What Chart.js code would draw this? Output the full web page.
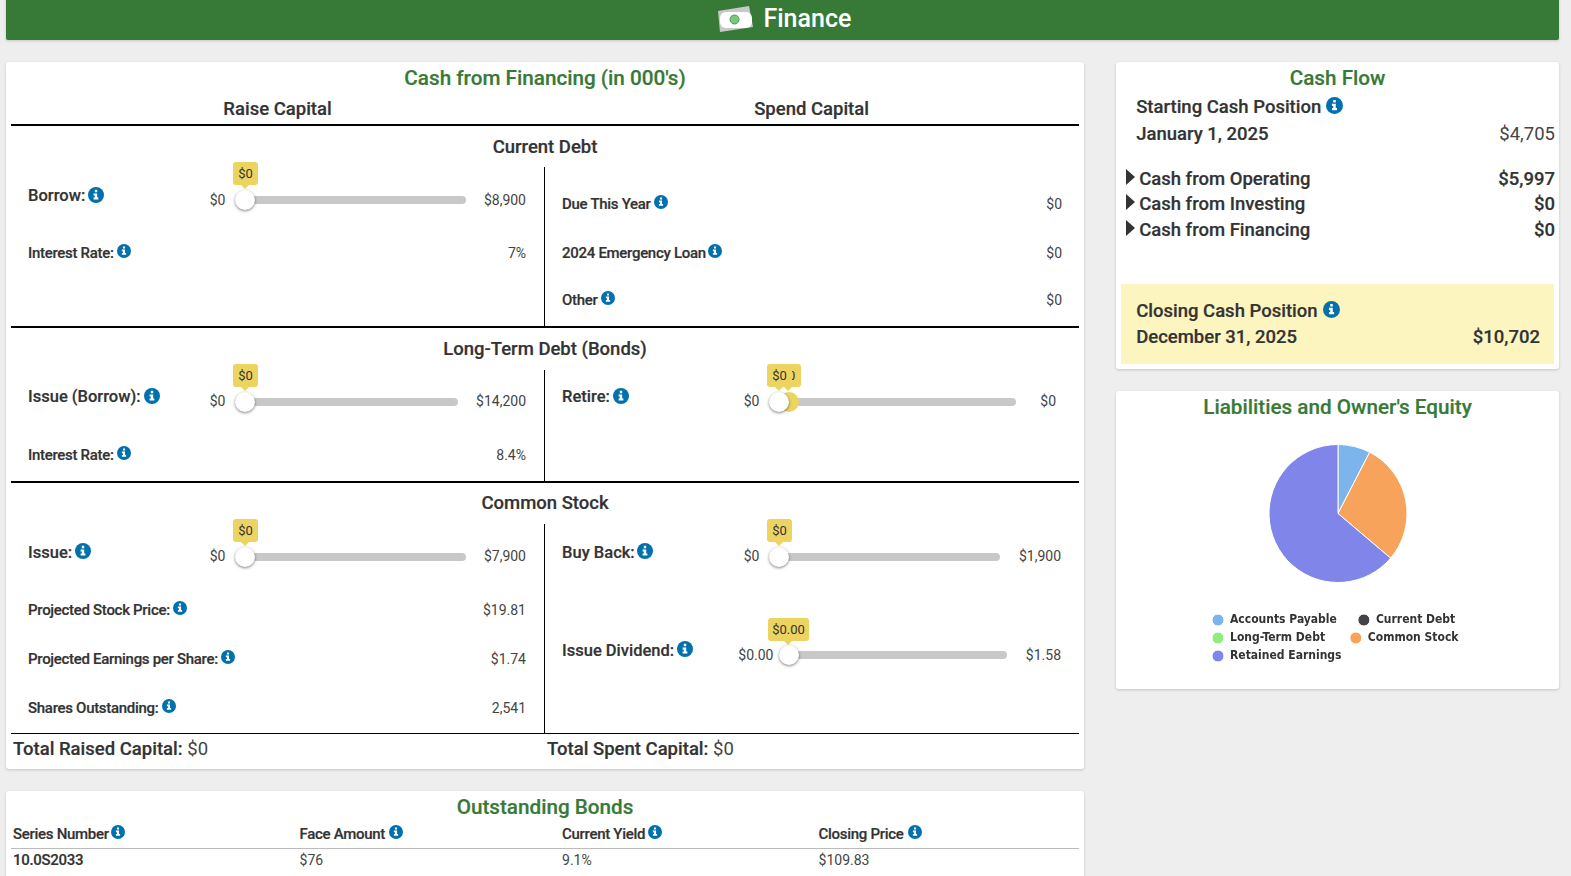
<!DOCTYPE html>
<html>
<head>
<meta charset="utf-8">
<title>Finance</title>
<script src="https://cdn.jsdelivr.net/npm/chart.js@4"></script>
<style>
html, body { margin: 0; padding: 0; width: 1571px; height: 876px; overflow: hidden; background: #eee; font-family: Roboto, sans-serif; color: #333; }
.box { position: absolute; background: #fff; border-radius: 3px; box-shadow: 0 1px 3px rgba(0,0,0,.18); }
.t { position: absolute; white-space: nowrap; line-height: 1; }
.title { font-size: 20.7px; font-weight: 500; color: #377a37; -webkit-text-stroke: 0.2px; }
.big { font-size: 18.5px; font-weight: 500; margin-top: 1px; -webkit-text-stroke: 0.2px; }
.lbl { font-size: 16.5px; font-weight: 500; -webkit-text-stroke: 0.2px; }
.sm { font-size: 15px; font-weight: 500; letter-spacing: -0.3px; -webkit-text-stroke: 0.2px; }
.val { font-size: 14px; color: #444; }
.cf { font-size: 18.5px; font-weight: 500; margin-top: 1px; -webkit-text-stroke: 0.2px; }
.reg { font-weight: 400; color: #444; -webkit-text-stroke: 0; }
.line { position: absolute; background: #000; }
.track { position: absolute; height: 8px; background: #c8c8c8; border-radius: 4px; }
.knob { position: absolute; width: 20px; height: 20px; border-radius: 50%; background: #fff; box-shadow: 0 1px 3px rgba(0,0,0,.5); }
.tip { position: absolute; height: 23px; background: #edd35f; border-radius: 3px; font-size: 13px; line-height: 23px; text-align: center; color: #333; }
.tip:after { content: ''; position: absolute; left: 50%; bottom: -4px; margin-left: -4px; border: 4px solid transparent; border-bottom: 0; border-top-color: #edd35f; }
svg { position: absolute; }
canvas { position: absolute; }
</style>
</head>
<body>
<canvas id="pie"></canvas>
<script>
// pie values (share of total, %)
const pieLabels = ['Accounts Payable', 'Current Debt', 'Long-Term Debt', 'Common Stock', 'Retained Earnings'];
const pieValues = [7.6, 0, 0, 28.6, 63.8];
const pieColors = ['#7cb5ec', '#434348', '#90ed7d', '#f7a35c', '#8085e9'];

// label, x, y, value, value right edge, style, icon x
const infoRows = [
    ['Interest Rate:', 28, 252, '7%', 525, 'sm', 124],
    ['Due This Year', 561, 203, '$0', 1060, 'sm', 660],
    ['2024 Emergency Loan', 561, 252, '$0', 1060, 'sm', 714],
    ['Other', 561, 298.5, '$0', 1060, 'sm', 607],
    ['Interest Rate:', 28, 453, '8.4%', 525, 'sm', 124],
    ['Projected Stock Price:', 28, 608, '$19.81', 525, 'sm', 180],
    ['Projected Earnings per Share:', 28, 657, '$1.74', 525, 'sm', 228],
    ['Shares Outstanding:', 28, 706, '2,541', 525, 'sm', 169]
];
// label, x, y, icon x, slider start, slider end, low, high, low right edge, high right edge, slider y
const sliderRows = [
    ['Borrow:', 28, 195.5, 96, 245, 465, '$0', '$8,900', 225, 525, 199],
    ['Issue (Borrow):', 28, 396, 152, 245, 457, '$0', '$14,200', 225, 525, 400],
    ['Retire:', 561, 396, 620, 778, 1014, '$0', '$0', 758, 1054, 400],
    ['Issue:', 28, 551, 83, 245, 465, '$0', '$7,900', 225, 525, 555],
    ['Buy Back:', 561, 551, 644, 778, 998, '$0', '$1,900', 758, 1059, 555],
    ['Issue Dividend:', 561, 649, 684, 787, 1005, '$0.00', '$1.58', 772, 1059, 653]
];
const cashRows = [['Cash from Operating', 178, '$5,997'], ['Cash from Investing', 203, '$0'], ['Cash from Financing', 229, '$0']];
const bondHeaders = [['Series Number', 13, 118], ['Face Amount', 299, 395], ['Current Yield', 561, 654], ['Closing Price', 817, 913]];
const bondRow = ['10.0S2033', '$76', '9.1%', '$109.83'];

// the reference is measured on a slightly reduced view
const k = 1571 / 1568;

function el(cls, style, html) {
    const d = document.createElement('div');
    d.className = cls;
    Object.assign(d.style, style);
    if (html !== undefined) d.innerHTML = html;
    document.body.appendChild(d);
    return d;
}
function rect(cls, x0, y0, x1, y1, bg) {
    return el(cls, { left: x0 * k + 'px', top: y0 * k + 'px', width: (x1 - x0) * k + 'px', height: (y1 - y0) * k + 'px', background: bg || '' });
}
function text(str, x, y, cls, align) {
    const tx = align === 'c' ? '-50%' : align === 'r' ? '-100%' : '0';
    return el('t ' + cls, { left: x * k + 'px', top: y * k + 'px', transform: 'translate(' + tx + ',-50%)' }, str);
}
function icon(x, y, r) {
    const s = document.createElementNS('http://www.w3.org/2000/svg', 'svg');
    const px = x * k, py = y * k;
    s.setAttribute('width', 2 * r);
    s.setAttribute('height', 2 * r);
    s.setAttribute('viewBox', '-10 -10 20 20');
    s.style.left = (px - r) + 'px';
    s.style.top = (py - r) + 'px';
    s.innerHTML = '<circle r="10" fill="#0071ad"/><path d="M-1.5-6.5h3v3h-3zM-3-2h4.5v5H3v2.5h-6V3h1.5V0.5H-3z" fill="#fff"/>';
    document.body.appendChild(s);
}
function tip(x0, x1, y, str) {
    const d = rect('tip', x0, y, x1, y + 23);
    d.textContent = str;
}
function knob(x, y, bg) {
    const d = el('knob', { left: (x * k - 10) + 'px', top: (y * k - 10) + 'px' });
    if (bg) { d.style.background = bg; d.style.boxShadow = 'none'; }
}

// header
rect('box', 6, -4, 1556, 40, '#377a37').style.borderRadius = '0 0 2px 2px';
const bill = document.createElementNS('http://www.w3.org/2000/svg', 'svg');
bill.setAttribute('width', 40); bill.setAttribute('height', 30);
bill.style.left = '716px'; bill.style.top = '4px';
bill.innerHTML = '<polygon points="2,7 33,2 37,23 4,28" fill="#c9c9c9"/><rect x="4" y="8" width="32" height="16" rx="6" fill="#fff"/><circle cx="18.5" cy="15.5" r="4.5" fill="#7dc67d" stroke="#4a9a4a"/>';
document.body.appendChild(bill);
text('Finance', 762, 18, 'big').style.cssText += 'font-size:25px;color:#fff;margin-top:0;-webkit-text-stroke:0';

// cards
rect('box', 6, 62, 1082, 768);
rect('box', 6, 789, 1082, 900);
rect('box', 1114, 62, 1556, 368);
rect('box', 1114, 390, 1556, 688);

// financing card
text("Cash from Financing (in 000's)", 544, 78, 'title', 'c');
text('Raise Capital', 277, 108, 'big', 'c');
text('Spend Capital', 810, 108, 'big', 'c');
rect('line', 11, 124, 1077, 126);
text('Current Debt', 544, 146, 'big', 'c');
rect('line', 543, 167, 544, 326);
rect('line', 11, 325, 1077, 327);
text('Long-Term Debt (Bonds)', 544, 347, 'big', 'c');
rect('line', 543, 369, 544, 481);
rect('line', 11, 480, 1077, 482);
text('Common Stock', 544, 501, 'big', 'c');
rect('line', 543, 523, 544, 732);
rect('line', 11, 732, 1077, 733);
text('Total Raised Capital: <span class="reg">$0</span>', 13, 747, 'big');
text('Total Spent Capital: <span class="reg">$0</span>', 546, 747, 'big');

infoRows.forEach(r => {
    text(r[0], r[1], r[2] + 1, r[5]);
    icon(r[6], r[2] - 1, 7);
    text(r[3], r[4], r[2] + 1, 'val', 'r');
});
sliderRows.forEach(r => {
    const ty = r[10] + 1;
    text(r[0], r[1], r[2] + 0.5, 'lbl');
    icon(r[3], r[2] - 1, 8);
    rect('track', r[4], ty, r[5], ty + 8).style.transform = 'translateY(-50%)';
    text(r[6], r[8], ty - 0.7, 'val', 'r');
    text(r[7], r[9], ty - 0.7, 'val', 'r');
    const wide = r[6].length > 2;
    const w = wide ? 40 : 25;
    const tipY = ty - (wide ? 37 : 38);
    if (r[0] === 'Retire:') {
        knob(r[4] + 9, ty, '#edd35f');
        tip(r[4] - 4, r[4] + 21, tipY, r[6]);
    }
    tip(r[4] - w / 2, r[4] + w / 2, tipY, r[6]);
    knob(r[4], ty);
});

// bonds card
text('Outstanding Bonds', 544, 805, 'title', 'c');
bondHeaders.forEach((h, i) => {
    text(h[0], h[1], 832, 'sm');
    icon(h[2], 830, 7);
    text(bondRow[i], h[1], 858, i === 0 ? 'sm' : 'val');
});
rect('line', 11, 846, 1077, 847, '#bbb');

// cash flow card
text('Cash Flow', 1335, 78, 'title', 'c');
text('Starting Cash Position', 1134, 106, 'cf');
icon(1332, 105, 8.5);
text('January 1, 2025', 1134, 133, 'cf');
text('$4,705', 1552, 133, 'cf reg', 'r');
cashRows.forEach(r => {
    text(r[0], 1137, r[1], 'cf');
    text(r[2], 1552, r[1], 'cf', 'r');
    el('', { position: 'absolute', left: 1124 * k + 'px', top: (r[1] - 9) * k + 'px', borderLeft: '9px solid #333', borderTop: '8px solid transparent', borderBottom: '8px solid transparent' });
});
rect('', 1119, 283, 1551, 363, '#fdf5bf').style.position = 'absolute';
text('Closing Cash Position', 1134, 309.5, 'cf');
icon(1329, 309, 8.5);
text('December 31, 2025', 1134, 335.5, 'cf');
text('$10,702', 1537, 335.5, 'cf', 'r');

// pie card
text("Liabilities and Owner's Equity", 1335, 406, 'title', 'c');
const pie = document.getElementById('pie');
pie.width = 264; pie.height = 253;
pie.style.left = '1206px'; pie.style.top = '419px'; pie.style.zIndex = 2;
new Chart(pie, {
    type: 'pie',
    data: { labels: pieLabels, datasets: [{ data: pieValues, backgroundColor: pieColors, borderColor: '#fff', borderWidth: 1, radius: 69 }] },
    options: {
        responsive: false,
        animation: false,
        devicePixelRatio: 1,
        plugins: {
            tooltip: { enabled: false },
            legend: {
                position: 'bottom',
                align: 'start',
                labels: {
                    usePointStyle: true,
                    pointStyle: 'circle',
                    pointStyleWidth: 12,
                    boxHeight: 8.5,
                    padding: 6,
                    color: '#333',
                    font: { family: 'DejaVu Sans Condensed', size: 12, weight: 'bold' },
                    // first column gets a wider gap than the rows do
                    generateLabels(chart) {
                        return Chart.overrides.pie.plugins.legend.labels.generateLabels(chart).map((l, i) => {
                            if (i === 0) l.text += '\u00a0\u00a0\u00a0\u00a0';
                            if (i === 2) l.text += '\u00a0\u00a0\u00a0\u00a0\u00a0';
                            l.hidden = false;
                            return l;
                        });
                    }
                }
            }
        }
    }
});
</script>
</body>
</html>
